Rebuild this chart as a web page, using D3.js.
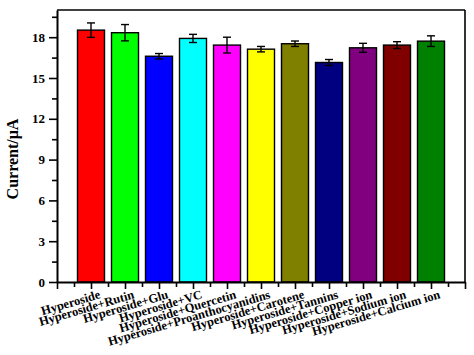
<!DOCTYPE html>
<html><head><meta charset="utf-8">
<script src="https://cdn.jsdelivr.net/npm/d3@7"></script>
<style>
html,body{margin:0;padding:0;background:#fff;}
svg{display:block;}
text{font-family:"Liberation Serif","Times New Roman",serif;font-weight:bold;fill:#000;}
</style></head>
<body>
<svg id="chart" width="474" height="355"></svg>
<script>
const categories = ["Hyperoside","Hyperoside+Rutin","Hyperoside+Glu","Hyperoside+VC","Hyperoside+Quercetin","Hyperoside+Proanthocyanidins","Hyperoside+Carotene","Hyperoside+Tannins","Hyperoside+Copper ion","Hyperoside+Sodium ion","Hyperoside+Calcium ion"];
const currentValues = [18.52, 18.33, 16.6, 17.91, 17.42, 17.12, 17.52, 16.14, 17.22, 17.42, 17.71];
const errorValues = [0.53, 0.6, 0.2, 0.3, 0.58, 0.2, 0.2, 0.22, 0.33, 0.25, 0.39];
const barColors = ["#ff0000","#00ff00","#0000ff","#00ffff","#ff00ff","#ffff00","#808000","#000080","#800080","#800000","#008000"];
const yTicks = [0, 3, 6, 9, 12, 15, 18];
const yLabel = "Current/μA";

const svg = d3.select("#chart");
const L = 57, R = 465, T = 10, B = 282;
const x = d3.scaleLinear().domain([0, categories.length + 1]).range([L, R]);
const y = d3.scaleLinear().domain([0, 20]).range([B, T]);
const bw = 27;

// frame top/right
svg.append("line").attr("x1", L).attr("x2", R).attr("y1", T).attr("y2", T).attr("stroke", "#000").attr("stroke-width", 1.6);
svg.append("line").attr("x1", R).attr("x2", R).attr("y1", T).attr("y2", B).attr("stroke", "#000").attr("stroke-width", 1.6);

// bars
const g = svg.append("g");
categories.forEach((c, i) => {
  const cx = x(i + 1);
  g.append("rect").attr("x", cx - bw / 2).attr("y", y(currentValues[i]))
    .attr("width", bw).attr("height", y(0) - y(currentValues[i]))
    .attr("fill", barColors[i]).attr("stroke", "#000").attr("stroke-width", 1.4);
  const e = errorValues[i];
  const eg = g.append("g").attr("stroke", "#000").attr("stroke-width", 1.4);
  eg.append("line").attr("x1", cx).attr("x2", cx).attr("y1", y(currentValues[i] + e)).attr("y2", y(currentValues[i] - e));
  eg.append("line").attr("x1", cx - 4).attr("x2", cx + 4).attr("y1", y(currentValues[i] + e)).attr("y2", y(currentValues[i] + e));
  eg.append("line").attr("x1", cx - 4).attr("x2", cx + 4).attr("y1", y(currentValues[i] - e)).attr("y2", y(currentValues[i] - e));
});

// y axis
const yAxis = d3.axisLeft(y).tickValues(yTicks).tickSize(8).tickPadding(4).tickSizeOuter(0);
const ya = svg.append("g").attr("transform", `translate(${L},0)`).call(yAxis);
ya.select(".domain").attr("stroke-width", 2);
ya.selectAll(".tick line").attr("stroke-width", 1.6);
ya.selectAll("text").attr("font-size", 13).attr("font-family", "Liberation Serif").attr("font-weight", "bold");
const yMinor = d3.axisLeft(y).tickValues(yTicks.map(v => v + 1.5)).tickSize(5).tickFormat("").tickSizeOuter(0);
const ym = svg.append("g").attr("transform", `translate(${L},0)`).call(yMinor);
ym.select(".domain").remove();
ym.selectAll(".tick line").attr("stroke-width", 1.6);

// x axis
const xMajor = d3.range(0, categories.length + 2);
const xAxis = d3.axisBottom(x).tickValues(xMajor).tickSize(7).tickFormat("").tickSizeOuter(0);
const xa = svg.append("g").attr("transform", `translate(0,${B})`).call(xAxis);
xa.select(".domain").attr("stroke-width", 2);
xa.selectAll(".tick line").attr("stroke-width", 1.6);
const xMinor = d3.axisBottom(x).tickValues(xMajor.slice(0, -1).map(v => v + 0.5)).tickSize(5).tickFormat("").tickSizeOuter(0);
const xm = svg.append("g").attr("transform", `translate(0,${B})`).call(xMinor);
xm.select(".domain").remove();
xm.selectAll(".tick line").attr("stroke-width", 1.6);

// x labels
categories.forEach((c, i) => {
  const px = x(i + 1) + 10, py = 298;
  svg.append("text").attr("x", px).attr("y", py)
    .attr("text-anchor", "end").attr("font-size", 12.5)
    .attr("transform", `rotate(-16.5,${px},${py})`).text(c);
});

// y label
svg.append("text").attr("transform", `translate(18,${(T + B) / 2 + 13}) rotate(-90)`)
  .attr("text-anchor", "middle").attr("font-size", 16).text(yLabel);
</script>
</body></html>
